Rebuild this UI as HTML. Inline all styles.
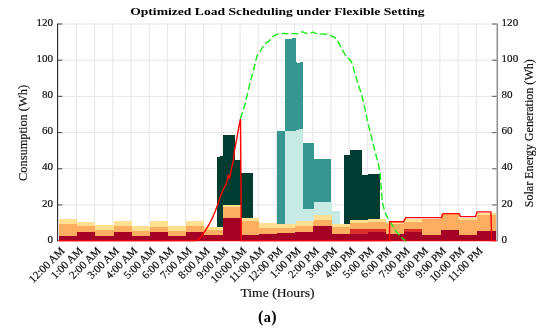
<!DOCTYPE html>
<html><head><meta charset="utf-8"><title>Optimized Load Scheduling under Flexible Setting</title>
<style>html,body{margin:0;padding:0;background:#fff;}svg{display:block;}</style></head>
<body><svg width="550" height="335" viewBox="0 0 550 335">
<rect width="550" height="335" fill="#fff"/>
<g stroke="#e6e6e6" stroke-width="1"><line x1="58" y1="204.92" x2="496.5" y2="204.92"/><line x1="58" y1="168.74" x2="496.5" y2="168.74"/><line x1="58" y1="132.56" x2="496.5" y2="132.56"/><line x1="58" y1="96.38" x2="496.5" y2="96.38"/><line x1="58" y1="60.2" x2="496.5" y2="60.2"/><line x1="58" y1="24.02" x2="496.5" y2="24.02"/><line x1="76.52" y1="23.5" x2="76.52" y2="241"/><line x1="94.69" y1="23.5" x2="94.69" y2="241"/><line x1="112.86" y1="23.5" x2="112.86" y2="241"/><line x1="131.03" y1="23.5" x2="131.03" y2="241"/><line x1="149.2" y1="23.5" x2="149.2" y2="241"/><line x1="167.37" y1="23.5" x2="167.37" y2="241"/><line x1="185.54" y1="23.5" x2="185.54" y2="241"/><line x1="203.71" y1="23.5" x2="203.71" y2="241"/><line x1="221.88" y1="23.5" x2="221.88" y2="241"/><line x1="240.05" y1="23.5" x2="240.05" y2="241"/><line x1="258.22" y1="23.5" x2="258.22" y2="241"/><line x1="276.39" y1="23.5" x2="276.39" y2="241"/><line x1="294.56" y1="23.5" x2="294.56" y2="241"/><line x1="312.73" y1="23.5" x2="312.73" y2="241"/><line x1="330.9" y1="23.5" x2="330.9" y2="241"/><line x1="349.07" y1="23.5" x2="349.07" y2="241"/><line x1="367.24" y1="23.5" x2="367.24" y2="241"/><line x1="385.41" y1="23.5" x2="385.41" y2="241"/><line x1="403.58" y1="23.5" x2="403.58" y2="241"/><line x1="421.75" y1="23.5" x2="421.75" y2="241"/><line x1="439.92" y1="23.5" x2="439.92" y2="241"/><line x1="458.09" y1="23.5" x2="458.09" y2="241"/><line x1="476.26" y1="23.5" x2="476.26" y2="241"/></g>
<g shape-rendering="crispEdges"><rect x="59" y="236" width="18.17" height="4.7" fill="#a50026"/><rect x="59" y="223.9" width="18.17" height="12.1" fill="#fdae61"/><rect x="59" y="219.4" width="18.17" height="4.5" fill="#fee090"/><rect x="77.17" y="232.1" width="18.17" height="8.6" fill="#a50026"/><rect x="77.17" y="225.8" width="18.17" height="6.3" fill="#fdae61"/><rect x="77.17" y="222" width="18.17" height="3.8" fill="#fee090"/><rect x="95.34" y="236.2" width="18.17" height="4.5" fill="#a50026"/><rect x="95.34" y="230" width="18.17" height="6.2" fill="#fdae61"/><rect x="95.34" y="225.4" width="18.17" height="4.6" fill="#fee090"/><rect x="113.51" y="231.8" width="18.17" height="8.9" fill="#a50026"/><rect x="113.51" y="226.1" width="18.17" height="5.7" fill="#fdae61"/><rect x="113.51" y="221" width="18.17" height="5.1" fill="#fee090"/><rect x="131.68" y="236.2" width="18.17" height="4.5" fill="#a50026"/><rect x="131.68" y="230.9" width="18.17" height="5.3" fill="#fdae61"/><rect x="131.68" y="225.7" width="18.17" height="5.2" fill="#fee090"/><rect x="149.85" y="231.8" width="18.17" height="8.9" fill="#a50026"/><rect x="149.85" y="226.5" width="18.17" height="5.3" fill="#fdae61"/><rect x="149.85" y="221.4" width="18.17" height="5.1" fill="#fee090"/><rect x="168.02" y="236.2" width="18.17" height="4.5" fill="#a50026"/><rect x="168.02" y="231.2" width="18.17" height="5" fill="#fdae61"/><rect x="168.02" y="226.1" width="18.17" height="5.1" fill="#fee090"/><rect x="186.19" y="231.8" width="18.17" height="8.9" fill="#a50026"/><rect x="186.19" y="226.1" width="18.17" height="5.7" fill="#fdae61"/><rect x="186.19" y="221" width="18.17" height="5.1" fill="#fee090"/><rect x="204.36" y="234.7" width="18.17" height="6" fill="#a50026"/><rect x="204.36" y="230.2" width="18.17" height="4.5" fill="#fdae61"/><rect x="204.36" y="226.6" width="18.17" height="3.6" fill="#fee090"/><rect x="222.53" y="217.7" width="18.17" height="23" fill="#a50026"/><rect x="222.53" y="207.2" width="18.17" height="10.5" fill="#fdae61"/><rect x="222.53" y="204.8" width="18.17" height="2.4" fill="#fee090"/><rect x="240.7" y="234.6" width="18.17" height="6.1" fill="#a50026"/><rect x="240.7" y="220.6" width="18.17" height="14" fill="#fdae61"/><rect x="240.7" y="218.1" width="18.17" height="2.5" fill="#fee090"/><rect x="258.87" y="233.9" width="18.17" height="6.8" fill="#a50026"/><rect x="258.87" y="228.2" width="18.17" height="5.7" fill="#fdae61"/><rect x="258.87" y="223.2" width="18.17" height="5" fill="#fee090"/><rect x="277.04" y="233.3" width="18.17" height="7.4" fill="#a50026"/><rect x="277.04" y="228.3" width="18.17" height="5" fill="#fdae61"/><rect x="277.04" y="223.6" width="18.17" height="4.7" fill="#fee090"/><rect x="295.21" y="232" width="18.17" height="8.7" fill="#a50026"/><rect x="295.21" y="226" width="18.17" height="6" fill="#fdae61"/><rect x="295.21" y="220.7" width="18.17" height="5.3" fill="#fee090"/><rect x="313.38" y="225.6" width="18.17" height="15.1" fill="#a50026"/><rect x="313.38" y="219.7" width="18.17" height="5.9" fill="#fdae61"/><rect x="313.38" y="214.7" width="18.17" height="5" fill="#fee090"/><rect x="331.55" y="233.8" width="18.17" height="6.9" fill="#a50026"/><rect x="331.55" y="227.1" width="18.17" height="6.7" fill="#fdae61"/><rect x="331.55" y="224.1" width="18.17" height="3" fill="#fee090"/><rect x="349.72" y="234.3" width="18.17" height="6.4" fill="#a50026"/><rect x="349.72" y="228.9" width="18.17" height="5.4" fill="#d73027"/><rect x="349.72" y="222.6" width="18.17" height="6.3" fill="#fdae61"/><rect x="349.72" y="220.4" width="18.17" height="2.2" fill="#fee090"/><rect x="367.89" y="232.2" width="18.17" height="8.5" fill="#a50026"/><rect x="367.89" y="228.9" width="18.17" height="3.3" fill="#d73027"/><rect x="367.89" y="222.4" width="18.17" height="6.5" fill="#fdae61"/><rect x="367.89" y="219" width="18.17" height="3.4" fill="#fee090"/><rect x="386.06" y="233.5" width="18.17" height="7.2" fill="#a50026"/><rect x="386.06" y="224.4" width="18.17" height="9.1" fill="#fdae61"/><rect x="386.06" y="222" width="18.17" height="2.4" fill="#fee090"/><rect x="404.23" y="231.8" width="18.17" height="8.9" fill="#a50026"/><rect x="404.23" y="229.2" width="18.17" height="2.6" fill="#d73027"/><rect x="404.23" y="222.2" width="18.17" height="7" fill="#fdae61"/><rect x="404.23" y="219" width="18.17" height="3.2" fill="#fee090"/><rect x="422.4" y="235.3" width="18.17" height="5.4" fill="#a50026"/><rect x="422.4" y="218.6" width="18.17" height="16.7" fill="#fdae61"/><rect x="440.57" y="230.2" width="18.17" height="10.5" fill="#a50026"/><rect x="440.57" y="214.1" width="18.17" height="16.1" fill="#fdae61"/><rect x="458.74" y="234.9" width="18.17" height="5.8" fill="#a50026"/><rect x="458.74" y="220.2" width="18.17" height="14.7" fill="#fdae61"/><rect x="458.74" y="217.6" width="18.17" height="2.6" fill="#fee090"/><rect x="476.91" y="230.9" width="19.09" height="9.8" fill="#a50026"/><rect x="476.91" y="214.8" width="19.09" height="16.1" fill="#fdae61"/><rect x="476.91" y="212.8" width="19.09" height="2" fill="#fee090"/><rect x="216.8" y="156.9" width="2.7" height="69.7" fill="#003c30"/><rect x="219.5" y="156.2" width="3.4" height="70.4" fill="#003c30"/><rect x="222.9" y="134.7" width="12" height="70.1" fill="#003c30"/><rect x="234.9" y="159.6" width="5.7" height="45.2" fill="#003c30"/><rect x="241" y="172.8" width="12.3" height="45.5" fill="#003c30"/><rect x="277.3" y="130.8" width="7.7" height="92.8" fill="#35978f"/><rect x="285" y="39.2" width="3.5" height="92.2" fill="#35978f"/><rect x="288.5" y="38.7" width="3.5" height="92.7" fill="#35978f"/><rect x="292" y="38" width="3.6" height="93.4" fill="#35978f"/><rect x="295.6" y="61.7" width="1.4" height="69.9" fill="#35978f"/><rect x="297" y="63.4" width="3" height="68.2" fill="#35978f"/><rect x="300" y="62.3" width="2.9" height="69.3" fill="#35978f"/><rect x="285" y="131.4" width="6" height="92.2" fill="#c7eae5"/><rect x="291" y="130.9" width="4.6" height="92.7" fill="#c7eae5"/><rect x="295.6" y="129.9" width="3.4" height="90.8" fill="#c7eae5"/><rect x="299" y="129" width="3.9" height="91.7" fill="#c7eae5"/><rect x="302.9" y="209.1" width="10.7" height="11.6" fill="#c7eae5"/><rect x="302.9" y="142.9" width="10.7" height="66.2" fill="#35978f"/><rect x="313.6" y="202.3" width="18" height="12.4" fill="#c7eae5"/><rect x="314" y="159.4" width="16.6" height="42.9" fill="#35978f"/><rect x="331.6" y="211.4" width="8.4" height="12.7" fill="#c7eae5"/><rect x="344.1" y="154.6" width="6.2" height="69.5" fill="#003c30"/><rect x="350.3" y="150.3" width="12" height="70.1" fill="#003c30"/><rect x="362.3" y="175.2" width="5.9" height="45.2" fill="#003c30"/><rect x="368.2" y="173.5" width="11.9" height="45.5" fill="#003c30"/></g>
<polyline points="240.4,118.8 244.8,105 249.5,85 253.5,70 257.1,55.4 258.9,53.7 261.5,48.9 263.7,45.9 266.5,42.4 268.2,41.9 269.6,40.5 271.4,37.5 274.4,35.7 277.9,33.9 283.6,33.4 288.6,33.9 294.3,33.4 298.4,33.9 302.5,31.7 305.7,33.4 310.6,32.9 313.1,32.2 316.5,33.6 320.5,33.9 325.4,34.2 330.3,35.5 335.2,37.5 338.5,42.4 340.9,47.3 346,56 350.3,60.3 352,63.2 354.4,71.5 358,83.5 361.7,95 364.5,106.9 368.1,123.6 371.7,138 375.3,152.3 378.9,166.6 380.1,173.4 381.2,187.9 382.3,201.3 384.5,211.4 387.9,218.1 391.3,223.7 394.6,229.3 399.1,234.9 403.6,239.4 406.2,241.5" fill="none" stroke="#18ec18" stroke-width="1.4" stroke-dasharray="7 3"/>
<defs><clipPath id="pc"><rect x="58" y="20" width="438.8" height="221.2"/></clipPath></defs>
<line clip-path="url(#pc)" x1="58" y1="241.3" x2="496.8" y2="241.3" stroke="#ff0000" stroke-width="1.6"/>
<polyline clip-path="url(#pc)" points="58.5,241.3 195,241.3 196.9,240.2 200.7,237.3 203.7,232.8 206.6,228.5 209.5,223.7 212.4,217.9 215.3,211.1 218.2,203.3 221.1,194.6 224,188 225.9,184.6 227.1,180.5 228.3,174.6 229.5,179 231.2,169.8 232.5,164.3 233.7,157.7 234.6,149.5 236.6,139.6 238.6,128.1 240.5,118.8 240.8,160 241.3,241.3 389.6,241.3 389.6,221.7 403.6,221.7 405.8,217.6 441.5,217.6 443,213.6 459,213.6 460.4,216.6 475.6,216.6 477.1,211.9 490.9,211.9 491.7,241.3 496.5,241.3" fill="none" stroke="#ff0000" stroke-width="1.4" stroke-linejoin="miter"/>
<g stroke-width="1.1"><line x1="57.6" y1="23.5" x2="57.6" y2="241.2" stroke="#1e1e1e" stroke-width="1.05"/><line x1="497.2" y1="23.5" x2="497.2" y2="241.2" stroke="#585858" stroke-width="1.0"/><line x1="58" y1="204.92" x2="62.3" y2="204.92" stroke="#555"/><line x1="492.2" y1="204.92" x2="496.5" y2="204.92" stroke="#666"/><line x1="58" y1="168.74" x2="62.3" y2="168.74" stroke="#555"/><line x1="492.2" y1="168.74" x2="496.5" y2="168.74" stroke="#666"/><line x1="58" y1="132.56" x2="62.3" y2="132.56" stroke="#555"/><line x1="492.2" y1="132.56" x2="496.5" y2="132.56" stroke="#666"/><line x1="58" y1="96.38" x2="62.3" y2="96.38" stroke="#555"/><line x1="492.2" y1="96.38" x2="496.5" y2="96.38" stroke="#666"/><line x1="58" y1="60.2" x2="62.3" y2="60.2" stroke="#555"/><line x1="492.2" y1="60.2" x2="496.5" y2="60.2" stroke="#666"/><line x1="58" y1="24.02" x2="62.3" y2="24.02" stroke="#555"/><line x1="492.2" y1="24.02" x2="496.5" y2="24.02" stroke="#666"/></g>
<g font-family="Liberation Serif, serif" font-size="11.05" fill="#111" stroke="#111" stroke-width="0.2"><text x="53" y="242.8" text-anchor="end">0</text><text x="501.6" y="242.8">0</text><text x="53" y="206.62" text-anchor="end">20</text><text x="501.6" y="206.62">20</text><text x="53" y="170.44" text-anchor="end">40</text><text x="501.6" y="170.44">40</text><text x="53" y="134.26" text-anchor="end">60</text><text x="501.6" y="134.26">60</text><text x="53" y="98.08" text-anchor="end">80</text><text x="501.6" y="98.08">80</text><text x="53" y="61.9" text-anchor="end">100</text><text x="501.6" y="61.9">100</text><text x="53" y="25.72" text-anchor="end">120</text><text x="501.6" y="25.72">120</text><text transform="translate(65.2,251.5) rotate(-45)" text-anchor="end">12:00 AM</text><text transform="translate(83.37,251.5) rotate(-45)" text-anchor="end">1:00 AM</text><text transform="translate(101.54,251.5) rotate(-45)" text-anchor="end">2:00 AM</text><text transform="translate(119.71,251.5) rotate(-45)" text-anchor="end">3:00 AM</text><text transform="translate(137.88,251.5) rotate(-45)" text-anchor="end">4:00 AM</text><text transform="translate(156.05,251.5) rotate(-45)" text-anchor="end">5:00 AM</text><text transform="translate(174.22,251.5) rotate(-45)" text-anchor="end">6:00 AM</text><text transform="translate(192.39,251.5) rotate(-45)" text-anchor="end">7:00 AM</text><text transform="translate(210.56,251.5) rotate(-45)" text-anchor="end">8:00 AM</text><text transform="translate(228.73,251.5) rotate(-45)" text-anchor="end">9:00 AM</text><text transform="translate(246.9,251.5) rotate(-45)" text-anchor="end">10:00 AM</text><text transform="translate(265.07,251.5) rotate(-45)" text-anchor="end">11:00 AM</text><text transform="translate(283.24,251.5) rotate(-45)" text-anchor="end">12:00 PM</text><text transform="translate(301.41,251.5) rotate(-45)" text-anchor="end">1:00 PM</text><text transform="translate(319.58,251.5) rotate(-45)" text-anchor="end">2:00 PM</text><text transform="translate(337.75,251.5) rotate(-45)" text-anchor="end">3:00 PM</text><text transform="translate(355.92,251.5) rotate(-45)" text-anchor="end">4:00 PM</text><text transform="translate(374.09,251.5) rotate(-45)" text-anchor="end">5:00 PM</text><text transform="translate(392.26,251.5) rotate(-45)" text-anchor="end">6:00 PM</text><text transform="translate(410.43,251.5) rotate(-45)" text-anchor="end">7:00 PM</text><text transform="translate(428.6,251.5) rotate(-45)" text-anchor="end">8:00 PM</text><text transform="translate(446.77,251.5) rotate(-45)" text-anchor="end">9:00 PM</text><text transform="translate(464.94,251.5) rotate(-45)" text-anchor="end">10:00 PM</text><text transform="translate(483.11,251.5) rotate(-45)" text-anchor="end">11:00 PM</text></g>
<text transform="translate(26.8,133.0) rotate(-90)" text-anchor="middle" font-family="Liberation Serif, serif" font-size="11.6" fill="#111" stroke="#111" stroke-width="0.15" textLength="96" lengthAdjust="spacingAndGlyphs">Consumption (Wh)</text>
<text transform="translate(532.6,133.2) rotate(-90)" text-anchor="middle" font-family="Liberation Serif, serif" font-size="11.6" fill="#111" stroke="#111" stroke-width="0.15" textLength="148" lengthAdjust="spacingAndGlyphs">Solar Energy Generation (Wh)</text>
<text x="277.5" y="296.8" text-anchor="middle" font-family="Liberation Serif, serif" font-size="11.8" fill="#111" stroke="#111" stroke-width="0.15" textLength="74" lengthAdjust="spacingAndGlyphs">Time (Hours)</text>
<text x="277.4" y="15.4" text-anchor="middle" font-family="Liberation Serif, serif" font-weight="bold" font-size="11.3" fill="#000" textLength="294.5" lengthAdjust="spacingAndGlyphs">Optimized Load Scheduling under Flexible Setting</text>
<text x="267.3" y="322.3" text-anchor="middle" font-family="Liberation Serif, serif" font-weight="bold" font-size="16" fill="#000" textLength="18.6" lengthAdjust="spacing">(<tspan font-size="14.2">a</tspan>)</text>
</svg></body></html>
